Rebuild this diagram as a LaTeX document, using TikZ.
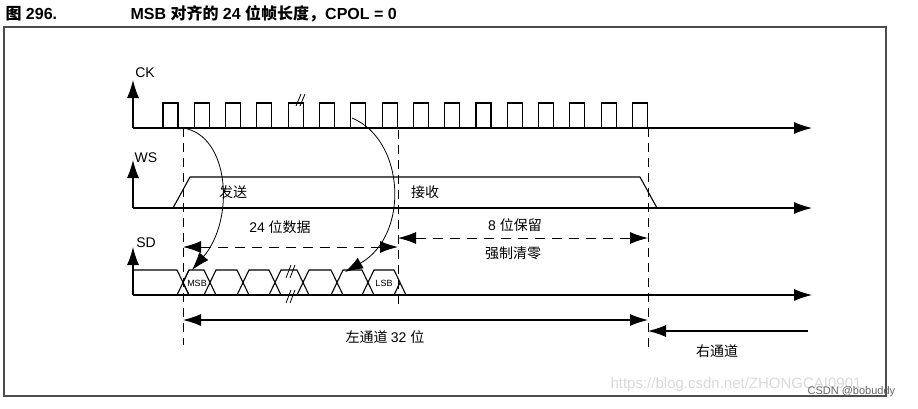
\documentclass[tikz,border=0pt]{standalone}
\usepackage{fontspec}
\setmainfont{Liberation Sans}
\newfontfamily\cjk{Noto Sans CJK SC}
\usetikzlibrary{arrows.meta}
\begin{document}
\begin{tikzpicture}[x=1pt,y=-1pt,line width=1.1pt,
  big/.style={-{Latex[length=18pt,width=12pt]}},
  bigb/.style={{Latex[length=18pt,width=12pt]}-{Latex[length=18pt,width=12pt]}},
  vdash/.style={dash pattern=on 9pt off 6pt,line width=1pt},
  lbl/.style={font=\fontsize{14}{16}\selectfont,inner sep=0pt},
  clbl/.style={font=\cjk\fontsize{14}{16}\selectfont,inner sep=0pt}]
\useasboundingbox (0,0) rectangle (918,408);
% title
\node[anchor=west,font=\bfseries\fontsize{16}{18}\selectfont,inner sep=0pt] (t1) at (5,14) {{\cjk 图} 296.};
\node[anchor=west,font=\bfseries\fontsize{16}{18}\selectfont,inner sep=0pt] (t2) at (130,14) {MSB {\cjk 对齐的} 24 {\cjk 位帧长度，}CPOL = 0};
\draw[line width=1.2pt,black!70] (4,27) rectangle (886,396);
% labels
\node[lbl] (ck) at (145,73) {CK};
\node[lbl] (ws) at (146,158) {WS};
\node[lbl] (sd) at (146,243) {SD};
% axes
\draw[big] (133,128) -- (133,80);
\draw[big] (133,128) -- (812,128);
\draw[big] (133,208) -- (133,160);
\draw[big] (133,208) -- (812,208);
\draw[big] (133,295) -- (133,247);
\draw[big] (133,295) -- (812,295);
% clock
\foreach \k in {0,...,15}{
  \pgfmathsetmacro\a{163+31.3*\k}
  \draw (\a,128) -- (\a,103) -- (\a+15,103) -- (\a+15,128);
}
\draw[line width=0.8pt] (296,106) -- (301,94) (300,106) -- (305,94);
% WS
\draw (133,208) -- (173,208) -- (190,177) -- (640,177) -- (657,208) -- (690,208);
\node[clbl] (tx) at (233,192) {发送};
\node[clbl] (rx) at (425,192) {接收};
% SD
\draw (133,270) -- (177,270) -- (189,295);
\draw (177,295) -- (189,270);
\foreach \a/\b in {183/210,210/243,243/275,275/303,303/337,337/368,368/400}{
  \draw (\a,282.5) -- (\a+6,270) -- (\b-6,270) -- (\b,282.5) -- (\b-6,295) -- (\a+6,295) -- cycle;
}
\draw (400,282.5) -- (406,295);
\draw[line width=0.8pt] (286,278) -- (291,265) (290,278) -- (295,265);
\draw[line width=0.8pt] (286,303) -- (291,290) (290,303) -- (295,290);
\node[font=\fontsize{9}{10}\selectfont,inner sep=0pt] (msb) at (197,283.5) {MSB};
\node[font=\fontsize{9}{10}\selectfont,inner sep=0pt] (lsb) at (384,283.5) {LSB};
% dashed verticals
\coordinate (d1t) at (183,128); \coordinate (d1b) at (183,345);
\coordinate (d2t) at (398,130); \coordinate (d2b) at (398,305);
\coordinate (d3t) at (648,128); \coordinate (d3b) at (648,352);
\draw[vdash] (d1t) -- (d1b);
\draw[vdash] (d2t) -- (d2b);
\draw[vdash] (d3t) -- (d3b);
% curved arrows
\draw[big,line width=0.8pt] (183,128) .. controls (230,135) and (235,220) .. (192,270);
\draw[big,line width=0.8pt] (352,118) .. controls (405,140) and (410,235) .. (345,272);
% dashed dimension arrows
\coordinate (a1) at (183,247); \coordinate (a2) at (398,247);
\draw[bigb,dash pattern=on 10pt off 7pt,line width=1pt] (a1) -- (a2);
\node[clbl] (n24) at (280,227) {\fontspec{Liberation Sans}24 \cjk 位数据};
\coordinate (b1) at (398,238); \coordinate (b2) at (648,238);
\draw[bigb,dash pattern=on 10pt off 7pt,line width=1pt] (b1) -- (b2);
\node[clbl] (n8) at (515,225) {\fontspec{Liberation Sans}8 \cjk 位保留};
\node[clbl] (nz) at (513,253) {强制清零};
% bottom
\coordinate (c1) at (183,320); \coordinate (c2) at (648,320);
\draw[bigb] (c1) -- (c2);
\node[clbl] (left) at (385,337) {左通道 \fontspec{Liberation Sans}32 \cjk 位};
\coordinate (r1) at (808,331); \coordinate (r2) at (648,331);
\draw[big] (r1) -- (r2);
\node[clbl] (right) at (717,351) {右通道};
% watermark
\node[anchor=west,text=black!15,font=\fontsize{15}{17}\selectfont,inner sep=0pt] (wm) at (610,385) {https://blog.csdn.net/ZHONGCAI0901};
\node[anchor=west,text=black!60,font=\fontsize{11}{13}\selectfont,inner sep=0pt] (wm2) at (807,392) {CSDN @bobuddy};
\end{tikzpicture}
\end{document}
